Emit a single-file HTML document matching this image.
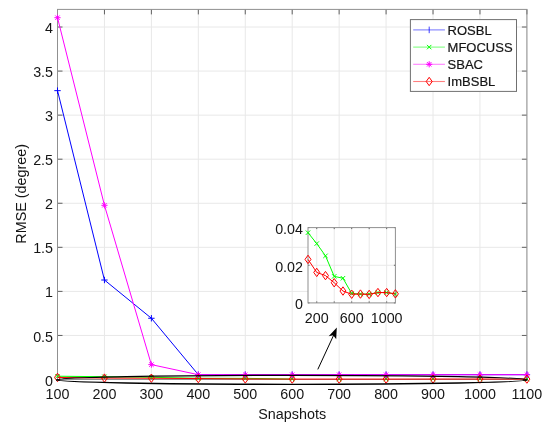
<!DOCTYPE html>
<html><head><meta charset="utf-8"><title>RMSE vs Snapshots</title>
<style>html,body{margin:0;padding:0;background:#fff;}svg{display:block;}</style>
</head><body>
<svg width="550" height="431" viewBox="0 0 550 431" font-family="'Liberation Sans', Arial, Helvetica, sans-serif">
<rect x="0" y="0" width="550" height="431" fill="#fff"/>
<path d="M57.50 9.40V379.50M104.44 9.40V379.50M151.38 9.40V379.50M198.32 9.40V379.50M245.26 9.40V379.50M292.20 9.40V379.50M339.14 9.40V379.50M386.08 9.40V379.50M433.02 9.40V379.50M479.96 9.40V379.50M526.90 9.40V379.50M57.50 379.50H526.90M57.50 335.44H526.90M57.50 291.38H526.90M57.50 247.32H526.90M57.50 203.26H526.90M57.50 159.20H526.90M57.50 115.14H526.90M57.50 71.08H526.90M57.50 27.02H526.90" stroke="#e8e8e8" stroke-width="1" fill="none"/>
<path d="M57.50 379.50V374.50M57.50 9.40V14.40M104.44 379.50V374.50M104.44 9.40V14.40M151.38 379.50V374.50M151.38 9.40V14.40M198.32 379.50V374.50M198.32 9.40V14.40M245.26 379.50V374.50M245.26 9.40V14.40M292.20 379.50V374.50M292.20 9.40V14.40M339.14 379.50V374.50M339.14 9.40V14.40M386.08 379.50V374.50M386.08 9.40V14.40M433.02 379.50V374.50M433.02 9.40V14.40M479.96 379.50V374.50M479.96 9.40V14.40M526.90 379.50V374.50M526.90 9.40V14.40M57.50 379.50H62.50M526.90 379.50H521.90M57.50 335.44H62.50M526.90 335.44H521.90M57.50 291.38H62.50M526.90 291.38H521.90M57.50 247.32H62.50M526.90 247.32H521.90M57.50 203.26H62.50M526.90 203.26H521.90M57.50 159.20H62.50M526.90 159.20H521.90M57.50 115.14H62.50M526.90 115.14H521.90M57.50 71.08H62.50M526.90 71.08H521.90M57.50 27.02H62.50M526.90 27.02H521.90" stroke="#606060" stroke-width="1" fill="none"/>
<rect x="57.50" y="9.40" width="469.40" height="370.10" stroke="#909090" stroke-width="1" fill="none"/>
<g font-size="14.3" fill="#151515"><text x="57.50" y="399.30" text-anchor="middle">100</text><text x="104.44" y="399.30" text-anchor="middle">200</text><text x="151.38" y="399.30" text-anchor="middle">300</text><text x="198.32" y="399.30" text-anchor="middle">400</text><text x="245.26" y="399.30" text-anchor="middle">500</text><text x="292.20" y="399.30" text-anchor="middle">600</text><text x="339.14" y="399.30" text-anchor="middle">700</text><text x="386.08" y="399.30" text-anchor="middle">800</text><text x="433.02" y="399.30" text-anchor="middle">900</text><text x="479.96" y="399.30" text-anchor="middle">1000</text><text x="526.90" y="399.30" text-anchor="middle">1100</text><text x="53.00" y="385.60" text-anchor="end">0</text><text x="53.00" y="341.54" text-anchor="end">0.5</text><text x="53.00" y="297.48" text-anchor="end">1</text><text x="53.00" y="253.42" text-anchor="end">1.5</text><text x="53.00" y="209.36" text-anchor="end">2</text><text x="53.00" y="165.30" text-anchor="end">2.5</text><text x="53.00" y="121.24" text-anchor="end">3</text><text x="53.00" y="77.18" text-anchor="end">3.5</text><text x="53.00" y="33.12" text-anchor="end">4</text></g>
<text x="292.20" y="418.6" text-anchor="middle" font-size="14.35" fill="#151515">Snapshots</text>
<text transform="translate(26.35 193.8) rotate(-90)" text-anchor="middle" font-size="14.35" fill="#151515">RMSE (degree)</text>
<polyline points="57.50,90.65 104.44,280.01 151.38,318.26 198.32,374.70 245.26,374.70 292.20,374.70 339.14,374.70 386.08,374.70 433.02,374.70 479.96,374.70 526.90,374.70" fill="none" stroke="#0000ff" stroke-width="1.0"/>
<path d="M54.30 90.65H60.70M57.50 87.45V93.85" stroke="#0000ff" stroke-width="1" fill="none"/>
<path d="M101.24 280.01H107.64M104.44 276.81V283.21" stroke="#0000ff" stroke-width="1" fill="none"/>
<path d="M148.18 318.26H154.58M151.38 315.06V321.46" stroke="#0000ff" stroke-width="1" fill="none"/>
<path d="M195.12 374.70H201.52M198.32 371.50V377.90" stroke="#0000ff" stroke-width="1" fill="none"/>
<path d="M242.06 374.70H248.46M245.26 371.50V377.90" stroke="#0000ff" stroke-width="1" fill="none"/>
<path d="M289.00 374.70H295.40M292.20 371.50V377.90" stroke="#0000ff" stroke-width="1" fill="none"/>
<path d="M335.94 374.70H342.34M339.14 371.50V377.90" stroke="#0000ff" stroke-width="1" fill="none"/>
<path d="M382.88 374.70H389.28M386.08 371.50V377.90" stroke="#0000ff" stroke-width="1" fill="none"/>
<path d="M429.82 374.70H436.22M433.02 371.50V377.90" stroke="#0000ff" stroke-width="1" fill="none"/>
<path d="M476.76 374.70H483.16M479.96 371.50V377.90" stroke="#0000ff" stroke-width="1" fill="none"/>
<path d="M523.70 374.70H530.10M526.90 371.50V377.90" stroke="#0000ff" stroke-width="1" fill="none"/>
<polyline points="57.50,376.21 104.44,376.72 151.38,377.30 198.32,378.26 245.26,378.35 292.20,379.06" fill="none" stroke="#00ff00" stroke-width="1.0"/>
<path d="M55.30 374.01L59.70 378.41M55.30 378.41L59.70 374.01" stroke="#00ff00" stroke-width="1" fill="none"/>
<path d="M102.24 374.52L106.64 378.92M102.24 378.92L106.64 374.52" stroke="#00ff00" stroke-width="1" fill="none"/>
<path d="M149.18 375.10L153.58 379.50M149.18 379.50L153.58 375.10" stroke="#00ff00" stroke-width="1" fill="none"/>
<path d="M196.12 376.06L200.52 380.46M196.12 380.46L200.52 376.06" stroke="#00ff00" stroke-width="1" fill="none"/>
<path d="M243.06 376.15L247.46 380.55M243.06 380.55L247.46 376.15" stroke="#00ff00" stroke-width="1" fill="none"/>
<path d="M290.00 376.86L294.40 381.26M290.00 381.26L294.40 376.86" stroke="#00ff00" stroke-width="1" fill="none"/>
<path d="M336.94 376.89L341.34 381.29M336.94 381.29L341.34 376.89" stroke="#00ff00" stroke-width="1" fill="none"/>
<path d="M383.88 376.89L388.28 381.29M383.88 381.29L388.28 376.89" stroke="#00ff00" stroke-width="1" fill="none"/>
<path d="M430.82 376.82L435.22 381.22M430.82 381.22L435.22 376.82" stroke="#00ff00" stroke-width="1" fill="none"/>
<path d="M477.76 376.82L482.16 381.22M477.76 381.22L482.16 376.82" stroke="#00ff00" stroke-width="1" fill="none"/>
<path d="M524.70 376.89L529.10 381.29M524.70 381.29L529.10 376.89" stroke="#00ff00" stroke-width="1" fill="none"/>
<polyline points="57.50,17.68 104.44,205.29 151.38,364.61 198.32,374.70 245.26,374.70 292.20,374.70 339.14,374.70 386.08,374.70 433.02,374.70 479.96,374.70 526.90,374.70" fill="none" stroke="#ff00ff" stroke-width="1.0"/>
<path d="M54.40 17.68H60.60M57.50 14.58V20.78M55.30 15.48L59.70 19.88M55.30 19.88L59.70 15.48" stroke="#ff00ff" stroke-width="1" fill="none"/>
<path d="M101.34 205.29H107.54M104.44 202.19V208.39M102.24 203.09L106.64 207.49M102.24 207.49L106.64 203.09" stroke="#ff00ff" stroke-width="1" fill="none"/>
<path d="M148.28 364.61H154.48M151.38 361.51V367.71M149.18 362.41L153.58 366.81M149.18 366.81L153.58 362.41" stroke="#ff00ff" stroke-width="1" fill="none"/>
<path d="M195.22 374.70H201.42M198.32 371.60V377.80M196.12 372.50L200.52 376.90M196.12 376.90L200.52 372.50" stroke="#ff00ff" stroke-width="1" fill="none"/>
<path d="M242.16 374.70H248.36M245.26 371.60V377.80M243.06 372.50L247.46 376.90M243.06 376.90L247.46 372.50" stroke="#ff00ff" stroke-width="1" fill="none"/>
<path d="M289.10 374.70H295.30M292.20 371.60V377.80M290.00 372.50L294.40 376.90M290.00 376.90L294.40 372.50" stroke="#ff00ff" stroke-width="1" fill="none"/>
<path d="M336.04 374.70H342.24M339.14 371.60V377.80M336.94 372.50L341.34 376.90M336.94 376.90L341.34 372.50" stroke="#ff00ff" stroke-width="1" fill="none"/>
<path d="M382.98 374.70H389.18M386.08 371.60V377.80M383.88 372.50L388.28 376.90M383.88 376.90L388.28 372.50" stroke="#ff00ff" stroke-width="1" fill="none"/>
<path d="M429.92 374.70H436.12M433.02 371.60V377.80M430.82 372.50L435.22 376.90M430.82 376.90L435.22 372.50" stroke="#ff00ff" stroke-width="1" fill="none"/>
<path d="M476.86 374.70H483.06M479.96 371.60V377.80M477.76 372.50L482.16 376.90M477.76 376.90L482.16 372.50" stroke="#ff00ff" stroke-width="1" fill="none"/>
<path d="M523.80 374.70H530.00M526.90 371.60V377.80M524.70 372.50L529.10 376.90M524.70 376.90L529.10 372.50" stroke="#ff00ff" stroke-width="1" fill="none"/>
<polyline points="57.50,377.46 104.44,378.07 151.38,378.22 198.32,378.56 245.26,378.94 292.20,379.09 339.14,379.09 386.08,379.10 433.02,379.02 479.96,379.02 526.90,379.08" fill="none" stroke="#ff0000" stroke-width="1.0"/>
<path d="M57.50 373.26L60.50 377.46L57.50 381.66L54.50 377.46Z" stroke="#ff0000" stroke-width="1" fill="none"/>
<path d="M104.44 373.87L107.44 378.07L104.44 382.27L101.44 378.07Z" stroke="#ff0000" stroke-width="1" fill="none"/>
<path d="M151.38 374.02L154.38 378.22L151.38 382.42L148.38 378.22Z" stroke="#ff0000" stroke-width="1" fill="none"/>
<path d="M198.32 374.36L201.32 378.56L198.32 382.76L195.32 378.56Z" stroke="#ff0000" stroke-width="1" fill="none"/>
<path d="M245.26 374.74L248.26 378.94L245.26 383.14L242.26 378.94Z" stroke="#ff0000" stroke-width="1" fill="none"/>
<path d="M292.20 374.89L295.20 379.09L292.20 383.29L289.20 379.09Z" stroke="#ff0000" stroke-width="1" fill="none"/>
<path d="M339.14 374.89L342.14 379.09L339.14 383.29L336.14 379.09Z" stroke="#ff0000" stroke-width="1" fill="none"/>
<path d="M386.08 374.90L389.08 379.10L386.08 383.30L383.08 379.10Z" stroke="#ff0000" stroke-width="1" fill="none"/>
<path d="M433.02 374.82L436.02 379.02L433.02 383.22L430.02 379.02Z" stroke="#ff0000" stroke-width="1" fill="none"/>
<path d="M479.96 374.82L482.96 379.02L479.96 383.22L476.96 379.02Z" stroke="#ff0000" stroke-width="1" fill="none"/>
<path d="M526.90 374.88L529.90 379.08L526.90 383.28L523.90 379.08Z" stroke="#ff0000" stroke-width="1" fill="none"/>
<rect x="410.4" y="19.6" width="106.10" height="71.80" fill="#fff" stroke="#707070" stroke-width="1"/>
<path d="M413.2 29.90H444.9" stroke="#0000ff" stroke-width="1.1" stroke-opacity="0.5"/>
<path d="M429.2 26.60V33.20" stroke="#0000ff" stroke-width="1" stroke-opacity="0.75"/>
<text x="447.6" y="34.80" font-size="13.0" fill="#151515" stroke="#151515" stroke-width="0.2">ROSBL</text>
<path d="M413.2 47.10H444.9" stroke="#00ff00" stroke-width="1.1" stroke-opacity="0.5"/>
<path d="M427.00 44.90L431.40 49.30M427.00 49.30L431.40 44.90" stroke="#00ff00" stroke-width="1" fill="none"/>
<text x="447.6" y="52.00" font-size="13.0" fill="#151515" stroke="#151515" stroke-width="0.2">MFOCUSS</text>
<path d="M413.2 64.30H444.9" stroke="#ff00ff" stroke-width="1.1" stroke-opacity="0.5"/>
<path d="M426.10 64.30H432.30M429.20 61.20V67.40M427.00 62.10L431.40 66.50M427.00 66.50L431.40 62.10" stroke="#ff00ff" stroke-width="1" fill="none"/>
<text x="447.6" y="69.20" font-size="13.0" fill="#151515" stroke="#151515" stroke-width="0.2">SBAC</text>
<path d="M413.2 81.50H444.9" stroke="#ff0000" stroke-width="1.1" stroke-opacity="0.5"/>
<path d="M429.20 77.30L432.20 81.50L429.20 85.70L426.20 81.50Z" stroke="#ff0000" stroke-width="1" fill="none"/>
<text x="447.6" y="86.40" font-size="13.0" fill="#151515" stroke="#151515" stroke-width="0.2">ImBSBL</text>
<ellipse cx="292.3" cy="379.85" rx="235" ry="4.45" fill="none" stroke="#000" stroke-width="1.3"/>
<rect x="56" y="379.3" width="4.2" height="1.4" fill="#000"/><rect x="522.8" y="379.3" width="4.5" height="1.4" fill="#000"/>
<path d="M317.8 369.4L334.2 334" stroke="#000" stroke-width="1" fill="none"/>
<path d="M336.8 327.6L336.2 339.2L333.2 335.3L328.7 336.2Z" fill="#000"/>
<rect x="308.00" y="227.60" width="87.40" height="75.30" fill="#fff"/>
<path d="M316.74 227.60V302.90M334.22 227.60V302.90M351.70 227.60V302.90M369.18 227.60V302.90M386.66 227.60V302.90M308.00 265.25H395.40" stroke="#e8e8e8" stroke-width="1" fill="none"/>
<path d="M316.74 302.90V301.40M316.74 227.60V229.10M334.22 302.90V301.40M334.22 227.60V229.10M351.70 302.90V301.40M351.70 227.60V229.10M369.18 302.90V301.40M369.18 227.60V229.10M386.66 302.90V301.40M386.66 227.60V229.10M308.00 302.90H309.50M395.40 302.90H393.90M308.00 265.25H309.50M395.40 265.25H393.90M308.00 227.60H309.50M395.40 227.60H393.90" stroke="#606060" stroke-width="1" fill="none"/>
<rect x="308.00" y="227.60" width="87.40" height="75.30" stroke="#909090" stroke-width="1" fill="none"/>
<g font-size="14.3" fill="#151515"><text x="316.74" y="323.20" text-anchor="middle">200</text><text x="351.70" y="323.20" text-anchor="middle">600</text><text x="386.66" y="323.20" text-anchor="middle">1000</text><text x="303.00" y="309.40" text-anchor="end">0</text><text x="303.00" y="271.75" text-anchor="end">0.02</text><text x="303.00" y="234.10" text-anchor="end">0.04</text></g>
<polyline points="308.00,232.68 316.74,243.60 325.48,255.84 334.22,276.36 342.96,278.24 351.70,293.49 360.44,294.05 369.18,294.05 377.92,292.55 386.66,292.55 395.40,294.05" fill="none" stroke="#00ff00" stroke-width="1.0"/>
<path d="M305.80 230.48L310.20 234.88M305.80 234.88L310.20 230.48" stroke="#00ff00" stroke-width="1" fill="none"/>
<path d="M314.54 241.40L318.94 245.80M314.54 245.80L318.94 241.40" stroke="#00ff00" stroke-width="1" fill="none"/>
<path d="M323.28 253.64L327.68 258.04M323.28 258.04L327.68 253.64" stroke="#00ff00" stroke-width="1" fill="none"/>
<path d="M332.02 274.16L336.42 278.56M332.02 278.56L336.42 274.16" stroke="#00ff00" stroke-width="1" fill="none"/>
<path d="M340.76 276.04L345.16 280.44M340.76 280.44L345.16 276.04" stroke="#00ff00" stroke-width="1" fill="none"/>
<path d="M349.50 291.29L353.90 295.69M349.50 295.69L353.90 291.29" stroke="#00ff00" stroke-width="1" fill="none"/>
<path d="M358.24 291.85L362.64 296.25M358.24 296.25L362.64 291.85" stroke="#00ff00" stroke-width="1" fill="none"/>
<path d="M366.98 291.85L371.38 296.25M366.98 296.25L371.38 291.85" stroke="#00ff00" stroke-width="1" fill="none"/>
<path d="M375.72 290.35L380.12 294.75M375.72 294.75L380.12 290.35" stroke="#00ff00" stroke-width="1" fill="none"/>
<path d="M384.46 290.35L388.86 294.75M384.46 294.75L388.86 290.35" stroke="#00ff00" stroke-width="1" fill="none"/>
<path d="M393.20 291.85L397.60 296.25M393.20 296.25L397.60 291.85" stroke="#00ff00" stroke-width="1" fill="none"/>
<polyline points="308.00,259.41 316.74,272.40 325.48,275.60 334.22,282.76 342.96,291.04 351.70,294.24 360.44,294.05 369.18,294.43 377.92,292.55 386.66,292.55 395.40,293.86" fill="none" stroke="#ff0000" stroke-width="1.0"/>
<path d="M308.00 255.21L311.00 259.41L308.00 263.61L305.00 259.41Z" stroke="#ff0000" stroke-width="1" fill="none"/>
<path d="M316.74 268.20L319.74 272.40L316.74 276.60L313.74 272.40Z" stroke="#ff0000" stroke-width="1" fill="none"/>
<path d="M325.48 271.40L328.48 275.60L325.48 279.80L322.48 275.60Z" stroke="#ff0000" stroke-width="1" fill="none"/>
<path d="M334.22 278.56L337.22 282.76L334.22 286.96L331.22 282.76Z" stroke="#ff0000" stroke-width="1" fill="none"/>
<path d="M342.96 286.84L345.96 291.04L342.96 295.24L339.96 291.04Z" stroke="#ff0000" stroke-width="1" fill="none"/>
<path d="M351.70 290.04L354.70 294.24L351.70 298.44L348.70 294.24Z" stroke="#ff0000" stroke-width="1" fill="none"/>
<path d="M360.44 289.85L363.44 294.05L360.44 298.25L357.44 294.05Z" stroke="#ff0000" stroke-width="1" fill="none"/>
<path d="M369.18 290.23L372.18 294.43L369.18 298.63L366.18 294.43Z" stroke="#ff0000" stroke-width="1" fill="none"/>
<path d="M377.92 288.35L380.92 292.55L377.92 296.75L374.92 292.55Z" stroke="#ff0000" stroke-width="1" fill="none"/>
<path d="M386.66 288.35L389.66 292.55L386.66 296.75L383.66 292.55Z" stroke="#ff0000" stroke-width="1" fill="none"/>
<path d="M395.40 289.66L398.40 293.86L395.40 298.06L392.40 293.86Z" stroke="#ff0000" stroke-width="1" fill="none"/>
</svg>
</body></html>
